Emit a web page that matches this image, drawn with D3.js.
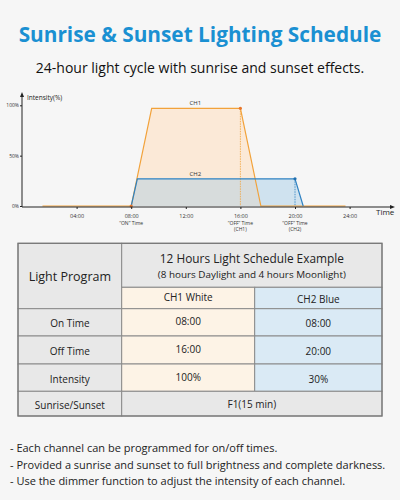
<!DOCTYPE html>
<html><head><meta charset="utf-8">
<script src="https://cdn.jsdelivr.net/npm/d3@7"></script>
<style>
html,body{margin:0;padding:0;background:#f6f6f6;}
svg{display:block;font-family:"Open Sans",sans-serif;}
</style></head>
<body>
<svg id="c" width="400" height="500"></svg>
<script>
// ---- data ----
const ch1Hours = [1.5, 8, 9.5, 16, 17.5, 23.7];
const ch1Values = [0, 0, 97, 97, 0, 0];
const ch2Hours = [8, 8.45, 20, 20.6];
const ch2Values = [0, 27, 27, 0];
const xTicks = [4, 8, 12, 16, 20, 24];
const xTickLabels = ["04:00", "08:00", "12:00", "16:00", "20:00", "24:00"];
const yTicks = [0, 50, 100];
const yTickLabels = ["0%", "50%", "100%"];
const markerNotes = [
  {hour: 8, lines: ["\u201cON\u201d Time"]},
  {hour: 16, lines: ["\u201cOFF\u201d Time", "(CH1)"]},
  {hour: 20, lines: ["\u201cOFF\u201d Time", "(CH2)"]}
];
const tableHeaderTitle = "12 Hours Light Schedule Example";
const tableHeaderSub = "(8 hours Daylight and 4 hours Moonlight)";
const channels = ["CH1 White", "CH2 Blue"];
const rowLabels = ["On Time", "Off Time", "Intensity"];
const ch1Cells = ["08:00", "16:00", "100%"];
const ch2Cells = ["08:00", "20:00", "30%"];
const sunriseLabel = "Sunrise/Sunset";
const sunriseValue = "F1(15 min)";
const notes = [
  "- Each channel can be programmed for on/off times.",
  "- Provided a sunrise and sunset to full brightness and complete darkness.",
  "- Use the dimmer function to adjust the intensity of each channel."
];

const svg = d3.select("#c");
const orange = "#f2a23a", blue = "#2f82c2";

// ---- titles ----
svg.append("text").attr("x", 200).attr("y", 42).attr("text-anchor", "middle")
  .attr("font-size", 20.8).attr("font-weight", 700).attr("fill", "#1a90d2")
  .text("Sunrise & Sunset Lighting Schedule");
svg.append("text").attr("x", 200).attr("y", 73).attr("text-anchor", "middle")
  .attr("font-size", 14).attr("fill", "#111")
  .text("24-hour light cycle with sunrise and sunset effects.");

// ---- chart ----
const x = d3.scaleLinear().domain([0, 24]).range([22, 349.6]);
const y = d3.scaleLinear().domain([0, 100]).range([206, 105.3]);
const g = svg.append("g");

const ch1 = ch1Hours.map((h, i) => ({h, v: ch1Values[i]}));
const ch2 = ch2Hours.map((h, i) => ({h, v: ch2Values[i]}));
const ch1Fill = ch1.filter(d => d.h >= 8 && d.h <= 17.5);

const area = d3.area().x(d => x(d.h)).y0(y(0)).y1(d => y(d.v));
const line = d3.line().x(d => x(d.h)).y(d => y(d.v));

g.append("path").attr("d", area(ch1Fill)).attr("fill", "#fbe9d7");
g.append("path").attr("d", area(ch2)).attr("fill", "#cfe2ef");
svg.append("defs").append("clipPath").attr("id", "ch1clip")
  .append("path").attr("d", area(ch1Fill));
g.append("path").attr("d", area(ch2)).attr("fill", "#d7dcdc").attr("clip-path", "url(#ch1clip)");

// dotted verticals
g.append("line").attr("x1", x(16)).attr("x2", x(16)).attr("y1", y(97)).attr("y2", y(0))
  .attr("stroke", orange).attr("stroke-width", 0.8).attr("stroke-dasharray", "1.5,1");
g.append("line").attr("x1", x(20)).attr("x2", x(20)).attr("y1", y(27)).attr("y2", y(0))
  .attr("stroke", blue).attr("stroke-width", 0.8).attr("stroke-dasharray", "1.5,1");

g.append("path").attr("d", line(ch1)).attr("fill", "none").attr("stroke", orange).attr("stroke-width", 1.2);
g.append("path").attr("d", line(ch2)).attr("fill", "none").attr("stroke", blue).attr("stroke-width", 1.2);

g.append("circle").attr("cx", x(8)).attr("cy", y(0)).attr("r", 1.6).attr("fill", "#e8762a");
g.append("circle").attr("cx", x(16)).attr("cy", y(97)).attr("r", 1.6).attr("fill", "#e8762a");
g.append("circle").attr("cx", x(20)).attr("cy", y(27)).attr("r", 1.6).attr("fill", "#1f6fb0");

g.append("text").attr("x", x(12.7)).attr("y", y(97) - 3).attr("text-anchor", "middle")
  .attr("font-size", 6).attr("fill", "#333").text("CH1");
g.append("text").attr("x", x(12.7)).attr("y", y(27) - 3).attr("text-anchor", "middle")
  .attr("font-size", 6).attr("fill", "#333").text("CH2");

// axes
const axisColor = "#222";
g.append("line").attr("x1", x(0)).attr("x2", 392).attr("y1", 207).attr("y2", 207)
  .attr("stroke", axisColor).attr("stroke-width", 1);
g.append("path").attr("d", "M395,207 L390,205 L390,209 Z").attr("fill", axisColor);
g.append("line").attr("x1", x(0)).attr("x2", x(0)).attr("y1", 207).attr("y2", 96)
  .attr("stroke", axisColor).attr("stroke-width", 1);
g.append("path").attr("d", `M${x(0)},92 L${x(0)-2},97 L${x(0)+2},97 Z`).attr("fill", axisColor);

const xAxis = d3.axisBottom(x).tickValues(xTicks).tickFormat((d, i) => xTickLabels[i])
  .tickSize(2).tickSizeOuter(0);
const xa = g.append("g").attr("transform", "translate(0,207)").call(xAxis);
xa.select(".domain").remove();
xa.selectAll("line").attr("stroke", axisColor);
xa.selectAll("text").attr("font-size", 5.5).attr("fill", "#333").attr("dy", "0.35em").attr("y", 9)
  .attr("font-family", "Open Sans, sans-serif");

const yAxis = d3.axisLeft(y).tickValues(yTicks).tickFormat((d, i) => yTickLabels[i])
  .tickSize(2).tickSizeOuter(0);
const ya = g.append("g").attr("transform", `translate(${x(0)},0)`).call(yAxis);
ya.select(".domain").remove();
ya.selectAll("line").attr("stroke", axisColor);
ya.selectAll("text").attr("font-size", 5).attr("fill", "#333").attr("x", -3)
  .attr("font-family", "Open Sans, sans-serif");

g.append("text").attr("x", 27).attr("y", 100).attr("font-size", 6.5).attr("fill", "#222").text("Intensity(%)");
g.append("text").attr("x", 376).attr("y", 215).attr("font-size", 8).attr("fill", "#222").text("Time");

markerNotes.forEach(m => {
  m.lines.forEach((t, i) => {
    g.append("text").attr("x", x(m.hour)).attr("y", 225 + i * 5.5).attr("text-anchor", "middle")
      .attr("font-size", 5).attr("fill", "#333").text(t);
  });
});

// ---- table ----
const colX = [18, 121.7, 254.7, 382];
const rowY = [243.3, 287.3, 308.7, 336, 364, 391.3, 416];
const T = svg.append("g");
const border = "#8a8a8a";
const grey = "#e8e8e8", cream = "#fdf3e6", lblue = "#daeaf5";

function cell(x0, y0, x1, y1, fill) {
  T.append("rect").attr("x", x0).attr("y", y0).attr("width", x1 - x0).attr("height", y1 - y0)
    .attr("fill", fill).attr("stroke", border).attr("stroke-width", 1);
}
function txt(cx, cy, s, size, len) {
  const t = T.append("text").attr("x", cx).attr("y", cy).attr("text-anchor", "middle")
    .attr("dominant-baseline", "central").attr("font-size", size).attr("fill", "#222").text(s);
  if (len) t.attr("textLength", len).attr("lengthAdjust", "spacingAndGlyphs");
}
cell(colX[0], rowY[0], colX[1], rowY[2], grey);
cell(colX[1], rowY[0], colX[3], rowY[1], grey);
cell(colX[1], rowY[1], colX[2], rowY[2], cream);
cell(colX[2], rowY[1], colX[3], rowY[2], lblue);
txt((colX[0] + colX[1]) / 2, (rowY[0] + rowY[2]) / 2, "Light Program", 12.5);
txt((colX[1] + colX[3]) / 2, 258, tableHeaderTitle, 12, 184);
txt((colX[1] + colX[3]) / 2, 274, tableHeaderSub, 9.6, 188);
txt((colX[1] + colX[2]) / 2, (rowY[1] + rowY[2]) / 2 - 1, channels[0], 10);
txt((colX[2] + colX[3]) / 2, (rowY[1] + rowY[2]) / 2 + 1, channels[1], 10);
rowLabels.forEach((r, i) => {
  const y0 = rowY[2 + i], y1 = rowY[3 + i], cy = (y0 + y1) / 2;
  cell(colX[0], y0, colX[1], y1, grey);
  cell(colX[1], y0, colX[2], y1, cream);
  cell(colX[2], y0, colX[3], y1, lblue);
  txt((colX[0] + colX[1]) / 2, cy + 1, r, 10);
  txt((colX[1] + colX[2]) / 2, cy - 1, ch1Cells[i], 10);
  txt((colX[2] + colX[3]) / 2, cy + 1, ch2Cells[i], 10);
});
cell(colX[0], rowY[5], colX[1], rowY[6], grey);
cell(colX[1], rowY[5], colX[3], rowY[6], grey);
txt((colX[0] + colX[1]) / 2, (rowY[5] + rowY[6]) / 2 + 1, sunriseLabel, 10);
txt((colX[1] + colX[3]) / 2, (rowY[5] + rowY[6]) / 2, sunriseValue, 10);
T.append("rect").attr("x", colX[0]).attr("y", rowY[0]).attr("width", colX[3] - colX[0])
  .attr("height", rowY[6] - rowY[0]).attr("fill", "none").attr("stroke", "#777").attr("stroke-width", 1.2);

// ---- notes ----
notes.forEach((n, i) => {
  svg.append("text").attr("x", 10).attr("y", 452 + i * 16.7).attr("font-size", 11)
    .attr("fill", "#222").text(n);
});
</script>
</body></html>
